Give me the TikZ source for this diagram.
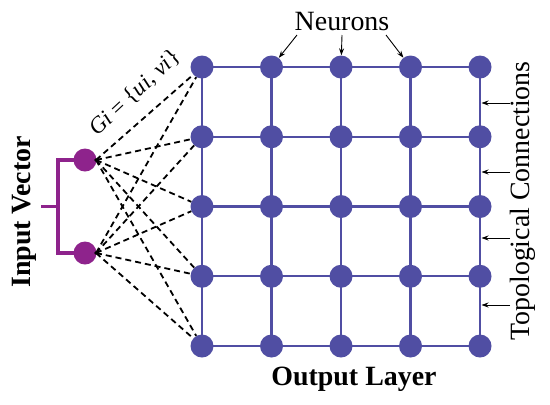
\documentclass[tikz,border=0pt]{standalone}
\usepackage{fontspec}
\setmainfont{Liberation Serif}
\usetikzlibrary{arrows.meta,calc}
\definecolor{gridblue}{RGB}{80,78,163}
\definecolor{inpurple}{RGB}{142,35,140}
\begin{document}
\begin{tikzpicture}[x=1bp,y=-1bp,
  neuron/.style={circle,fill=gridblue,minimum size=23bp,inner sep=0pt},
  inneuron/.style={circle,fill=inpurple,minimum size=23bp,inner sep=0pt},
  gridline/.style={draw=gridblue,line width=2.4bp},
  bracket/.style={draw=inpurple,line width=3.5bp},
  dashline/.style={draw=black,line width=1.8bp,dash pattern=on 6bp off 4bp},
  ptr/.style={draw=black,line width=0.9bp,-{Stealth[length=7bp,width=5bp]}},
  lbl/.style={font=\fontsize{28}{32}\selectfont,inner sep=0pt},
  glbl/.style={font=\fontsize{23}{27}\selectfont,inner sep=0pt},
  blbl/.style={font=\fontsize{28}{32}\selectfont\bfseries,inner sep=0pt}]
\useasboundingbox (0,0) rectangle (550,404);
% grid lines (drawn first)
\foreach \c/\x in {1/202,2/271.5,3/341,4/410.5,5/480}{
  \draw[gridline] (\x,67) -- (\x,346);
}
\foreach \r/\y in {1/67,2/136.75,3/206.5,4/276.25,5/346}{
  \draw[gridline] (202,\y) -- (480,\y);
}
% neurons
\foreach \c/\x in {1/202,2/271.5,3/341,4/410.5,5/480}{
  \foreach \r/\y in {1/67,2/136.75,3/206.5,4/276.25,5/346}{
    \node[neuron] (n\r\c) at (\x,\y) {};
  }
}
% input nodes
\node[inneuron] (i1) at (85,160) {};
\node[inneuron] (i2) at (85,253) {};
\coordinate (bt) at (58,160);
\coordinate (bb) at (58,253);
\coordinate (bm) at (58,206.5);
\coordinate (bs) at (41,206.5);
\draw[bracket] (i1.center) -- (bt) -- (bb) -- (i2.center);
\draw[bracket] (bs) -- (bm);
% dashed connections
\foreach \i in {1,2}{
  \coordinate (s\i) at ($(i\i.center)+(11,0)$);
  \foreach \r in {1,...,5}{
    \draw[dashline] (s\i) -- (n\r1);
  }
  \fill (s\i) circle (1.8bp);
}
% labels
\node[glbl,rotate=43] (g) at (135,93) {\itshape Gi \upshape= \{\itshape ui\upshape, \itshape vi\upshape\}};
\node[lbl] (neur) at (342,21) {Neurons};
\coordinate (a1) at (297,35);
\coordinate (a2) at (342,35);
\coordinate (a3) at (386,35);
\draw[ptr] (a1) -- (n12);
\draw[ptr] (a2) -- (n13);
\draw[ptr] (a3) -- (n14);
\node[lbl,rotate=90] (topo) at (523,201) {Topological Connections};
\foreach \k/\y in {1/103,2/172,3/238,4/305}{
  \coordinate (t\k) at (510,\y);
  \coordinate (h\k) at (481.5,\y);
  \draw[ptr] (t\k) -- (h\k);
}
\node[blbl,rotate=90] (inv) at (24,212) {Input Vector};
\node[blbl] (outl) at (354,379) {Output Layer};
\end{tikzpicture}
\end{document}
